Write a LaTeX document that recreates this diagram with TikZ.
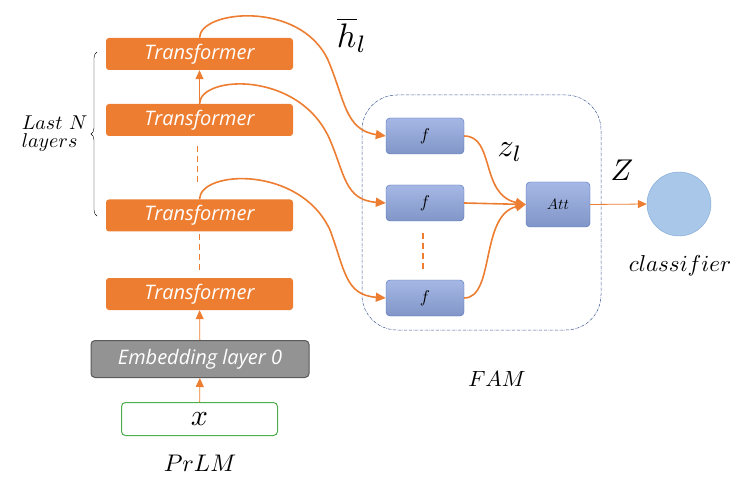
\documentclass[tikz,border=0pt]{standalone}
\usepackage{fontspec}
\usepackage{graphicx}
\setsansfont{Open Sans}
\usetikzlibrary{arrows.meta,decorations.pathreplacing}
\definecolor{org}{HTML}{ED7D31}
\definecolor{fblue}{HTML}{8FA6DE}
\definecolor{fbord}{HTML}{4A6AB8}
\definecolor{cfill}{HTML}{A9C7E9}
\definecolor{cbord}{HTML}{7EA6D4}
\newcommand{\mbig}[2]{\scalebox{#1}{$#2$}}
\begin{document}
\begin{tikzpicture}[x=1pt,y=-1pt,
 tr/.style={draw=none,fill=org,rounded corners=3,minimum width=187,minimum height=32,text=white,font=\sffamily\itshape\fontsize{20}{20}\selectfont,inner sep=0},
 fb/.style={draw=fbord,top color=fblue!80!white,bottom color=fblue!90!black,rounded corners=4,minimum width=78,minimum height=36,inner sep=0},
 ar/.style={draw=org,line width=0.8,-{Triangle[length=9,width=8,fill=org]}},
 cu/.style={draw=org,line width=1.6,-{Triangle[length=10,width=9,fill=org]}},
 dsh/.style={draw=org,line width=1.5,dash pattern=on 6 off 4}]
\useasboundingbox (0,0) rectangle (749,478);
\draw[densely dashdotted,draw=fbord!80!black,line width=0.5,rounded corners=35] (362,95) rectangle (601,330);
\node[tr] (t1) at (199.5,54) {Transformer};
\node[tr] (t2) at (199.5,120) {Transformer};
\node[tr] (t3) at (199.5,215.5) {Transformer};
\node[tr] (t4) at (199.5,294) {Transformer};
\node[draw=gray!70!black,line width=1,fill=gray!85,rounded corners=4,minimum width=218,minimum height=37,inner sep=0,text=white,font=\sffamily\itshape\fontsize{20}{20}\selectfont] (emb) at (200,359) {Embedding layer 0};
\node[draw=green!55!black!70,line width=1,rounded corners=4,minimum width=156,minimum height=33,inner sep=0] (x) at (199.5,419) {\mbig{3}{x}};
\node (prlm) at (200,463) {\mbig{2.4}{PrLM}};
\draw[ar] (x) -- (emb);
\draw[ar] (emb) -- (t4);
\draw[ar] (t2) -- (t1);
\coordinate (d1) at (197.5,146);
\coordinate (d2) at (197.5,186);
\coordinate (d3) at (199.5,234);
\coordinate (d4) at (199.5,272);
\draw[dsh] (d1) -- (d2);
\draw[dsh] (d3) -- (d4);
\draw[decorate,decoration={brace,amplitude=6}] (97,216) -- node[left=6,align=left] (lbl) {\mbig{2}{Last\ N}\\[3pt]\mbig{2}{layers}} (97,52);
\node[fb] (f1) at (425,136) {\mbig{1.7}{f}};
\node[fb] (f2) at (425,203) {\mbig{1.7}{f}};
\node[fb] (f3) at (425,298) {\mbig{1.7}{f}};
\node[fb,minimum width=64,minimum height=45] (att) at (558,204.5) {\mbig{1.5}{Att}};
\coordinate (d5) at (423,233);
\coordinate (d6) at (423,270);
\draw[dsh] (d5) -- (d6);
\node[circle,draw=cbord,fill=cfill,minimum size=64,inner sep=0] (cls) at (679,204) {};
\node (clsl) at (680,266) {\mbig{2.3}{classifier}};
\node (fam) at (497,379) {\mbig{2.2}{FAM}};
\node (hl) at (352,35) {\mbig{3.4}{\overline{h}_l}};
\node (zl) at (510,152) {\mbig{3.2}{z_l}};
\node (zz) at (622,170) {\mbig{3}{Z}};
\draw[cu] (t1.north) .. controls (200,10) and (300,0) .. (328,60) .. controls (345,100) and (345,130) .. (f1.west);
\draw[cu] (t2.north) .. controls (200,75) and (300,70) .. (330,140) .. controls (345,175) and (345,200) .. (f2.west);
\draw[cu] (t3.north) .. controls (200,170) and (300,165) .. (330,230) .. controls (345,270) and (345,295) .. (f3.west);
\draw[cu] (f1.east) .. controls (495,136) and (480,195) .. (att.west);
\draw[cu] (f2.east) -- (att.west);
\draw[cu] (f3.east) .. controls (495,298) and (480,215) .. (att.west);
\draw[ar] (att.east) -- (cls.west);
\end{tikzpicture}
\end{document}
